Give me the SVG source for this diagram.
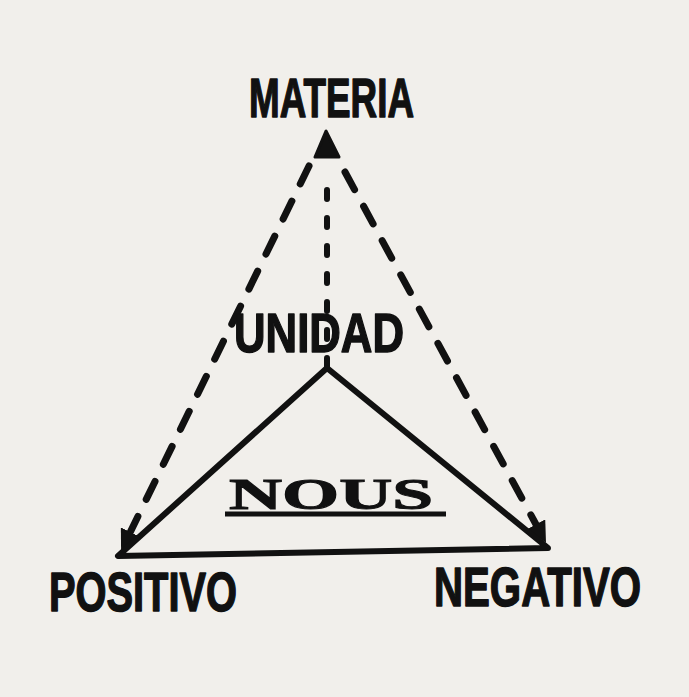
<svg xmlns="http://www.w3.org/2000/svg" width="689" height="697" viewBox="0 0 689 697">
<style>
.lbl{font-family:"Liberation Sans",Arial,sans-serif;font-weight:bold;font-size:56px;fill:#111;stroke:#111;stroke-width:1.5;stroke-linejoin:round}
.nous{font-family:"Liberation Serif","Times New Roman",serif;font-weight:bold;font-size:44px;fill:#111;stroke:#111;stroke-width:1}
.dash{fill:none;stroke:#111;stroke-width:7;stroke-dasharray:20 19;stroke-linecap:round}
.dot{fill:none;stroke:#111;stroke-width:6;stroke-dasharray:9 19;stroke-linecap:round}
.solid{fill:none;stroke:#111;stroke-width:6;stroke-linejoin:round;stroke-linecap:round}
</style>
<defs>
<marker id="ah" viewBox="0 0 10 10" refX="9" refY="5" markerWidth="3" markerHeight="3" orient="auto" markerUnits="strokeWidth">
<path d="M0,0 L10,5 L0,10 z" fill="#111"/>
</marker>
</defs>
<rect width="689" height="697" fill="#f1efeb"/>
<g id="connectors">
<path class="dash" d="M309,166 L122,549" marker-end="url(#ah)"/>
<path class="dash" d="M345,172 L545,541" marker-end="url(#ah)"/>
<path class="dot" d="M327,367 L327,178"/>
<path d="M326,131 L315,157 L339,157 z" fill="#111" stroke="#111" stroke-width="3" stroke-linejoin="round"/>
<path class="solid" d="M327,368 L118,556 L548,548 Z"/>
</g>
<g id="materia"><text class="lbl" x="249" y="117" textLength="165" lengthAdjust="spacingAndGlyphs">MATERIA</text></g>
<g id="unidad"><text class="lbl" x="234" y="352" textLength="170" lengthAdjust="spacingAndGlyphs">UNIDAD</text></g>
<g id="nous"><text class="nous" x="229" y="509" textLength="204" lengthAdjust="spacingAndGlyphs">NOUS</text>
<line x1="225" y1="514" x2="446" y2="514" stroke="#111" stroke-width="5"/></g>
<g id="positivo"><text class="lbl" x="49" y="611" textLength="188" lengthAdjust="spacingAndGlyphs">POSITIVO</text></g>
<g id="negativo"><text class="lbl" x="434" y="606" textLength="207" lengthAdjust="spacingAndGlyphs">NEGATIVO</text></g>
</svg>
